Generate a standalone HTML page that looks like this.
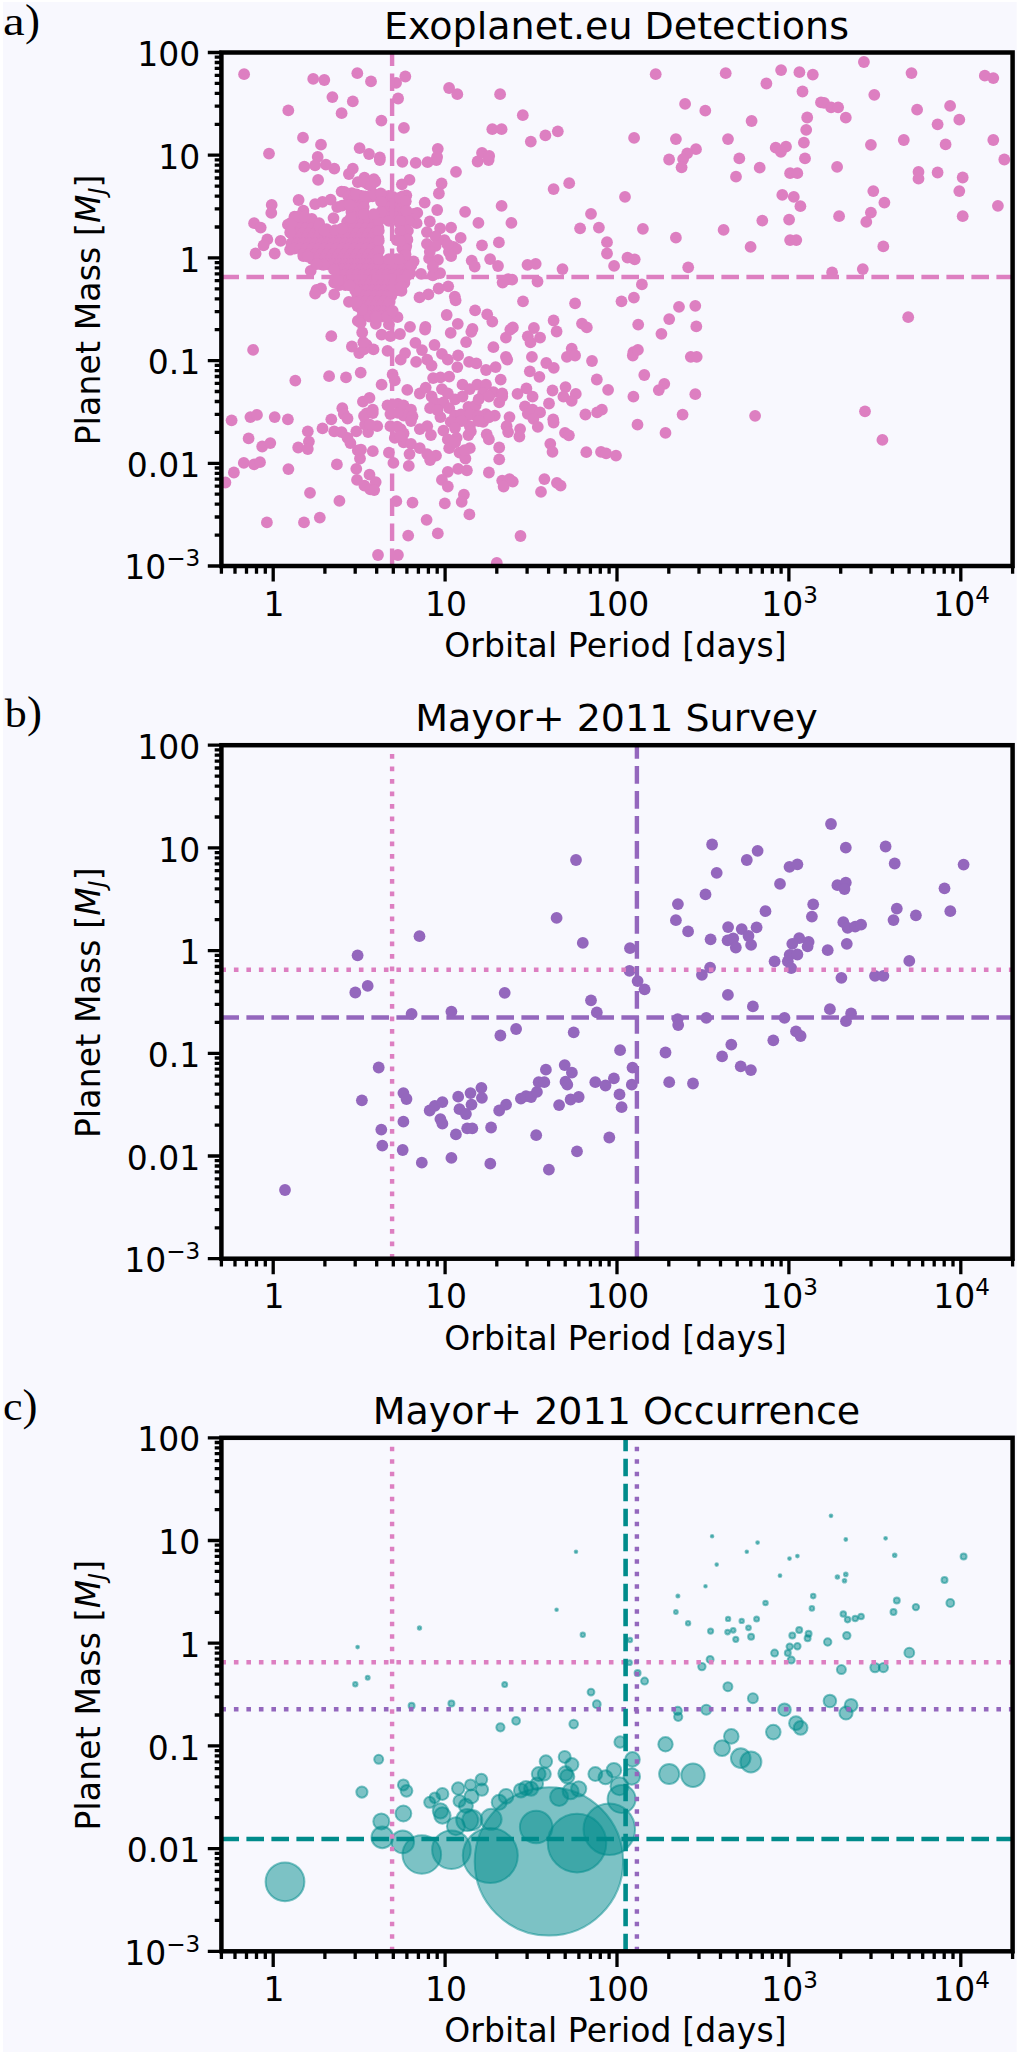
<!DOCTYPE html><html><head><meta charset="utf-8"><title>Exoplanet mass-period plots</title>
<style>html,body{margin:0;padding:0;background:#fff;overflow:hidden}svg{display:block}text{font-family:"DejaVu Sans","Liberation Sans",sans-serif}text.sr{font-family:"Liberation Serif","DejaVu Serif",serif}.tk{font-size:33px;letter-spacing:0px}.lb{font-size:33px;letter-spacing:0.15px}.sup{font-size:23.1px}</style></head><body>
<svg width="1020" height="2055" viewBox="0 0 1020 2055">
<rect x="3" y="2" width="1013.7" height="2050" fill="#f8f8fe"/>
<clipPath id="c0"><rect x="221.4" y="52.5" width="791.2" height="513.5"/></clipPath>
<g clip-path="url(#c0)">
<g fill="#dd7fc1">
<circle cx="244.1" cy="74.2" r="5.9"/>
<circle cx="313.2" cy="78.9" r="5.9"/>
<circle cx="324.3" cy="80" r="5.9"/>
<circle cx="357.3" cy="73.2" r="5.9"/>
<circle cx="371" cy="81.4" r="5.9"/>
<circle cx="405.3" cy="76.5" r="5.9"/>
<circle cx="396.1" cy="82.8" r="5.9"/>
<circle cx="398.1" cy="98.5" r="5.9"/>
<circle cx="332.4" cy="97.1" r="5.9"/>
<circle cx="352.8" cy="101.4" r="5.9"/>
<circle cx="288.3" cy="110.4" r="5.9"/>
<circle cx="341.6" cy="113.2" r="5.9"/>
<circle cx="381.4" cy="120.6" r="5.9"/>
<circle cx="403.9" cy="127.9" r="5.9"/>
<circle cx="303" cy="137.7" r="5.9"/>
<circle cx="321" cy="144.7" r="5.9"/>
<circle cx="269" cy="153.6" r="5.9"/>
<circle cx="359.6" cy="148.1" r="5.9"/>
<circle cx="369" cy="154" r="5.9"/>
<circle cx="379.8" cy="157.3" r="5.9"/>
<circle cx="402.4" cy="161.8" r="5.9"/>
<circle cx="415.7" cy="162.8" r="5.9"/>
<circle cx="317.7" cy="156.9" r="5.9"/>
<circle cx="304.3" cy="166.7" r="5.9"/>
<circle cx="315.1" cy="165.3" r="5.9"/>
<circle cx="325.9" cy="164.7" r="5.9"/>
<circle cx="334.3" cy="168.7" r="5.9"/>
<circle cx="352.8" cy="168.7" r="5.9"/>
<circle cx="318.1" cy="179.9" r="5.9"/>
<circle cx="348.9" cy="174" r="5.9"/>
<circle cx="357.8" cy="182.1" r="5.9"/>
<circle cx="364.4" cy="177.6" r="5.9"/>
<circle cx="368.1" cy="184.3" r="5.9"/>
<circle cx="298.6" cy="200" r="5.9"/>
<circle cx="341.6" cy="191.6" r="5.9"/>
<circle cx="351.9" cy="193.1" r="5.9"/>
<circle cx="361.4" cy="196" r="5.9"/>
<circle cx="368.1" cy="196.8" r="5.9"/>
<circle cx="271.7" cy="204.9" r="5.9"/>
<circle cx="271.3" cy="212.9" r="5.9"/>
<circle cx="315.1" cy="204.1" r="5.9"/>
<circle cx="322.5" cy="201.9" r="5.9"/>
<circle cx="330.6" cy="199.7" r="5.9"/>
<circle cx="337.2" cy="207.1" r="5.9"/>
<circle cx="347.5" cy="204.1" r="5.9"/>
<circle cx="303.4" cy="210.7" r="5.9"/>
<circle cx="294.5" cy="216.6" r="5.9"/>
<circle cx="333.5" cy="218.1" r="5.9"/>
<circle cx="254.1" cy="223.2" r="5.9"/>
<circle cx="260.7" cy="227.6" r="5.9"/>
<circle cx="287.9" cy="224.7" r="5.9"/>
<circle cx="267.3" cy="239.4" r="5.9"/>
<circle cx="263.6" cy="245.3" r="5.9"/>
<circle cx="280.6" cy="240.9" r="5.9"/>
<circle cx="379.8" cy="160" r="5.9"/>
<circle cx="427.6" cy="162.2" r="5.9"/>
<circle cx="436.4" cy="160" r="5.9"/>
<circle cx="477.6" cy="161.5" r="5.9"/>
<circle cx="488.6" cy="160" r="5.9"/>
<circle cx="456" cy="171.8" r="5.9"/>
<circle cx="373.9" cy="179.1" r="5.9"/>
<circle cx="409.5" cy="179.9" r="5.9"/>
<circle cx="401.9" cy="184.3" r="5.9"/>
<circle cx="441.6" cy="183.5" r="5.9"/>
<circle cx="438.9" cy="193.5" r="5.9"/>
<circle cx="406.3" cy="195.3" r="5.9"/>
<circle cx="379.8" cy="196" r="5.9"/>
<circle cx="388.6" cy="196" r="5.9"/>
<circle cx="424.7" cy="202.6" r="5.9"/>
<circle cx="437.2" cy="210" r="5.9"/>
<circle cx="465.1" cy="211.8" r="5.9"/>
<circle cx="501.6" cy="205.9" r="5.9"/>
<circle cx="417.3" cy="212.9" r="5.9"/>
<circle cx="429.8" cy="221.5" r="5.9"/>
<circle cx="478.4" cy="222.9" r="5.9"/>
<circle cx="511.4" cy="222.9" r="5.9"/>
<circle cx="426.9" cy="232.1" r="5.9"/>
<circle cx="440.1" cy="228.4" r="5.9"/>
<circle cx="451.1" cy="227.6" r="5.9"/>
<circle cx="460.7" cy="237.9" r="5.9"/>
<circle cx="435.7" cy="236.5" r="5.9"/>
<circle cx="444.5" cy="240.1" r="5.9"/>
<circle cx="426.9" cy="243.8" r="5.9"/>
<circle cx="453.4" cy="246.8" r="5.9"/>
<circle cx="482" cy="245.3" r="5.9"/>
<circle cx="498.9" cy="242.4" r="5.9"/>
<circle cx="404.8" cy="221.8" r="5.9"/>
<circle cx="416.6" cy="223.2" r="5.9"/>
<circle cx="407" cy="239.4" r="5.9"/>
<circle cx="396.7" cy="240.1" r="5.9"/>
<circle cx="449.1" cy="88" r="5.9"/>
<circle cx="457.3" cy="94.2" r="5.9"/>
<circle cx="500.1" cy="94.2" r="5.9"/>
<circle cx="522.8" cy="115.2" r="5.9"/>
<circle cx="492.3" cy="129.2" r="5.9"/>
<circle cx="501.6" cy="129.2" r="5.9"/>
<circle cx="530.8" cy="141.6" r="5.9"/>
<circle cx="545.4" cy="135.4" r="5.9"/>
<circle cx="557.8" cy="131.3" r="5.9"/>
<circle cx="437.8" cy="148.8" r="5.9"/>
<circle cx="437.1" cy="157" r="5.9"/>
<circle cx="482" cy="152.9" r="5.9"/>
<circle cx="489.2" cy="156" r="5.9"/>
<circle cx="655.7" cy="74.2" r="5.9"/>
<circle cx="725.7" cy="73.2" r="5.9"/>
<circle cx="781.1" cy="70.1" r="5.9"/>
<circle cx="799.4" cy="72.2" r="5.9"/>
<circle cx="812.8" cy="74.6" r="5.9"/>
<circle cx="766.4" cy="83.5" r="5.9"/>
<circle cx="802.5" cy="91.5" r="5.9"/>
<circle cx="821" cy="102.4" r="5.9"/>
<circle cx="685.1" cy="103.9" r="5.9"/>
<circle cx="705.3" cy="110.7" r="5.9"/>
<circle cx="751.6" cy="121" r="5.9"/>
<circle cx="807.2" cy="117.5" r="5.9"/>
<circle cx="806.2" cy="129.8" r="5.9"/>
<circle cx="803.9" cy="142.6" r="5.9"/>
<circle cx="805" cy="158.4" r="5.9"/>
<circle cx="634.1" cy="137.9" r="5.9"/>
<circle cx="675.9" cy="139.1" r="5.9"/>
<circle cx="728" cy="139.1" r="5.9"/>
<circle cx="696" cy="149.2" r="5.9"/>
<circle cx="687.2" cy="153.3" r="5.9"/>
<circle cx="683.1" cy="159.1" r="5.9"/>
<circle cx="669.1" cy="159.5" r="5.9"/>
<circle cx="681.6" cy="167.3" r="5.9"/>
<circle cx="739.3" cy="158.4" r="5.9"/>
<circle cx="775.7" cy="147.7" r="5.9"/>
<circle cx="786" cy="146.7" r="5.9"/>
<circle cx="780.9" cy="151.9" r="5.9"/>
<circle cx="759.7" cy="167.7" r="5.9"/>
<circle cx="863.9" cy="62" r="5.9"/>
<circle cx="911.5" cy="73.1" r="5.9"/>
<circle cx="984.8" cy="75.7" r="5.9"/>
<circle cx="993.3" cy="78.1" r="5.9"/>
<circle cx="874.3" cy="94.8" r="5.9"/>
<circle cx="824.1" cy="102.8" r="5.9"/>
<circle cx="831.1" cy="107.3" r="5.9"/>
<circle cx="838.1" cy="107.3" r="5.9"/>
<circle cx="845.8" cy="117.7" r="5.9"/>
<circle cx="917.1" cy="109.7" r="5.9"/>
<circle cx="950.1" cy="105.9" r="5.9"/>
<circle cx="937.6" cy="124.3" r="5.9"/>
<circle cx="959.3" cy="119.7" r="5.9"/>
<circle cx="870.9" cy="144.8" r="5.9"/>
<circle cx="903.8" cy="140" r="5.9"/>
<circle cx="945.6" cy="144.4" r="5.9"/>
<circle cx="993.3" cy="140" r="5.9"/>
<circle cx="1004.3" cy="159.5" r="5.9"/>
<circle cx="837.1" cy="166.9" r="5.9"/>
<circle cx="736" cy="176.7" r="5.9"/>
<circle cx="790.1" cy="173.2" r="5.9"/>
<circle cx="797.3" cy="173.2" r="5.9"/>
<circle cx="625" cy="196.9" r="5.9"/>
<circle cx="782.3" cy="194.9" r="5.9"/>
<circle cx="793.8" cy="196.9" r="5.9"/>
<circle cx="800.4" cy="206.2" r="5.9"/>
<circle cx="762.3" cy="220.6" r="5.9"/>
<circle cx="789.1" cy="219.6" r="5.9"/>
<circle cx="642.9" cy="228.8" r="5.9"/>
<circle cx="723.6" cy="229.9" r="5.9"/>
<circle cx="675.9" cy="237.7" r="5.9"/>
<circle cx="750.6" cy="246.9" r="5.9"/>
<circle cx="790.1" cy="240.1" r="5.9"/>
<circle cx="796.3" cy="240.1" r="5.9"/>
<circle cx="607" cy="242.2" r="5.9"/>
<circle cx="607" cy="253.5" r="5.9"/>
<circle cx="614.1" cy="265.9" r="5.9"/>
<circle cx="627.5" cy="257.6" r="5.9"/>
<circle cx="634.7" cy="259.3" r="5.9"/>
<circle cx="688.2" cy="267.3" r="5.9"/>
<circle cx="641.9" cy="284.4" r="5.9"/>
<circle cx="918.5" cy="172" r="5.9"/>
<circle cx="918.5" cy="178.7" r="5.9"/>
<circle cx="937.6" cy="172.5" r="5.9"/>
<circle cx="962.7" cy="177.5" r="5.9"/>
<circle cx="959.3" cy="191.1" r="5.9"/>
<circle cx="873.3" cy="191.1" r="5.9"/>
<circle cx="884.4" cy="202.6" r="5.9"/>
<circle cx="870.9" cy="212.6" r="5.9"/>
<circle cx="866.3" cy="221.9" r="5.9"/>
<circle cx="839.1" cy="216.2" r="5.9"/>
<circle cx="997.9" cy="205.8" r="5.9"/>
<circle cx="962.7" cy="216.2" r="5.9"/>
<circle cx="883.3" cy="246.4" r="5.9"/>
<circle cx="862.8" cy="269.1" r="5.9"/>
<circle cx="832.1" cy="272.5" r="5.9"/>
<circle cx="553.6" cy="189.1" r="5.9"/>
<circle cx="569.2" cy="183.2" r="5.9"/>
<circle cx="591" cy="213.8" r="5.9"/>
<circle cx="580.1" cy="228.3" r="5.9"/>
<circle cx="598.9" cy="227.6" r="5.9"/>
<circle cx="498" cy="266" r="5.9"/>
<circle cx="527.5" cy="264.8" r="5.9"/>
<circle cx="535.7" cy="263.8" r="5.9"/>
<circle cx="562.5" cy="269.1" r="5.9"/>
<circle cx="508.1" cy="279.1" r="5.9"/>
<circle cx="512.2" cy="279.7" r="5.9"/>
<circle cx="537.5" cy="281.5" r="5.9"/>
<circle cx="255.6" cy="253.5" r="5.9"/>
<circle cx="274.7" cy="253.5" r="5.9"/>
<circle cx="290.1" cy="249.6" r="5.9"/>
<circle cx="303.4" cy="256.2" r="5.9"/>
<circle cx="310.7" cy="270.9" r="5.9"/>
<circle cx="316.6" cy="290" r="5.9"/>
<circle cx="321" cy="288.5" r="5.9"/>
<circle cx="315.1" cy="293.7" r="5.9"/>
<circle cx="334.2" cy="294.4" r="5.9"/>
<circle cx="334.2" cy="282.6" r="5.9"/>
<circle cx="348.9" cy="301.8" r="5.9"/>
<circle cx="357.8" cy="320.9" r="5.9"/>
<circle cx="362.2" cy="316.5" r="5.9"/>
<circle cx="406.3" cy="245.9" r="5.9"/>
<circle cx="413.6" cy="261.3" r="5.9"/>
<circle cx="490.1" cy="259.1" r="5.9"/>
<circle cx="471.7" cy="260.6" r="5.9"/>
<circle cx="474.7" cy="266.5" r="5.9"/>
<circle cx="502.6" cy="282.6" r="5.9"/>
<circle cx="448.2" cy="286.3" r="5.9"/>
<circle cx="438.6" cy="288.5" r="5.9"/>
<circle cx="428.4" cy="294.4" r="5.9"/>
<circle cx="419.5" cy="297.4" r="5.9"/>
<circle cx="454.8" cy="296.6" r="5.9"/>
<circle cx="455.6" cy="300.3" r="5.9"/>
<circle cx="446.7" cy="315" r="5.9"/>
<circle cx="475.1" cy="310.3" r="5.9"/>
<circle cx="487.2" cy="314.3" r="5.9"/>
<circle cx="492.3" cy="321.6" r="5.9"/>
<circle cx="512.9" cy="327.5" r="5.9"/>
<circle cx="457.8" cy="323.8" r="5.9"/>
<circle cx="472.5" cy="329" r="5.9"/>
<circle cx="425.4" cy="326.8" r="5.9"/>
<circle cx="410" cy="326.8" r="5.9"/>
<circle cx="397.5" cy="317.2" r="5.9"/>
<circle cx="421" cy="273.8" r="5.9"/>
<circle cx="432.8" cy="275.3" r="5.9"/>
<circle cx="440.1" cy="273.1" r="5.9"/>
<circle cx="429.1" cy="258.4" r="5.9"/>
<circle cx="437.9" cy="259.9" r="5.9"/>
<circle cx="435.7" cy="245.9" r="5.9"/>
<circle cx="448.9" cy="251.8" r="5.9"/>
<circle cx="456.3" cy="248.8" r="5.9"/>
<circle cx="447.5" cy="244.4" r="5.9"/>
<circle cx="451.1" cy="256.2" r="5.9"/>
<circle cx="429.8" cy="251.8" r="5.9"/>
<circle cx="432.8" cy="266.5" r="5.9"/>
<circle cx="253.1" cy="349.9" r="5.9"/>
<circle cx="331.3" cy="336.2" r="5.9"/>
<circle cx="351.9" cy="346.5" r="5.9"/>
<circle cx="359.2" cy="353.1" r="5.9"/>
<circle cx="362.2" cy="332.5" r="5.9"/>
<circle cx="360.7" cy="322.9" r="5.9"/>
<circle cx="366.6" cy="345" r="5.9"/>
<circle cx="295.3" cy="380.6" r="5.9"/>
<circle cx="329.1" cy="376.2" r="5.9"/>
<circle cx="346" cy="377.4" r="5.9"/>
<circle cx="360.7" cy="372.6" r="5.9"/>
<circle cx="362.9" cy="401.6" r="5.9"/>
<circle cx="369.5" cy="397.9" r="5.9"/>
<circle cx="342.3" cy="408.2" r="5.9"/>
<circle cx="343.8" cy="414.1" r="5.9"/>
<circle cx="366.6" cy="413.4" r="5.9"/>
<circle cx="231.6" cy="420.3" r="5.9"/>
<circle cx="250.4" cy="417.1" r="5.9"/>
<circle cx="257" cy="414.9" r="5.9"/>
<circle cx="274.7" cy="417.1" r="5.9"/>
<circle cx="287.9" cy="419.3" r="5.9"/>
<circle cx="331.3" cy="419.3" r="5.9"/>
<circle cx="347.5" cy="418.5" r="5.9"/>
<circle cx="381.6" cy="334.7" r="5.9"/>
<circle cx="390.4" cy="336.2" r="5.9"/>
<circle cx="388.9" cy="324.4" r="5.9"/>
<circle cx="400" cy="334" r="5.9"/>
<circle cx="425" cy="329.6" r="5.9"/>
<circle cx="450.7" cy="332.9" r="5.9"/>
<circle cx="471.3" cy="331.8" r="5.9"/>
<circle cx="466.1" cy="342.1" r="5.9"/>
<circle cx="505.9" cy="337.6" r="5.9"/>
<circle cx="510.3" cy="329.6" r="5.9"/>
<circle cx="493.4" cy="347.2" r="5.9"/>
<circle cx="505.9" cy="356.8" r="5.9"/>
<circle cx="373.5" cy="349.4" r="5.9"/>
<circle cx="363.9" cy="349.4" r="5.9"/>
<circle cx="387.5" cy="350.9" r="5.9"/>
<circle cx="405.1" cy="353.1" r="5.9"/>
<circle cx="400.7" cy="359.7" r="5.9"/>
<circle cx="415.4" cy="342.8" r="5.9"/>
<circle cx="422" cy="350.1" r="5.9"/>
<circle cx="434.5" cy="345" r="5.9"/>
<circle cx="416.1" cy="361.9" r="5.9"/>
<circle cx="427.2" cy="359.7" r="5.9"/>
<circle cx="431.6" cy="365.6" r="5.9"/>
<circle cx="441.9" cy="353.8" r="5.9"/>
<circle cx="447.8" cy="359.7" r="5.9"/>
<circle cx="458.1" cy="355.3" r="5.9"/>
<circle cx="457.3" cy="367.1" r="5.9"/>
<circle cx="469.1" cy="361.9" r="5.9"/>
<circle cx="476.4" cy="363.4" r="5.9"/>
<circle cx="486" cy="370" r="5.9"/>
<circle cx="495.6" cy="367.1" r="5.9"/>
<circle cx="500.7" cy="379.6" r="5.9"/>
<circle cx="392.6" cy="374.4" r="5.9"/>
<circle cx="394.8" cy="380.3" r="5.9"/>
<circle cx="381.6" cy="384.7" r="5.9"/>
<circle cx="407.3" cy="389.9" r="5.9"/>
<circle cx="433.1" cy="378.1" r="5.9"/>
<circle cx="440.4" cy="377.4" r="5.9"/>
<circle cx="449.2" cy="376.6" r="5.9"/>
<circle cx="419.8" cy="393.5" r="5.9"/>
<circle cx="425.7" cy="387.6" r="5.9"/>
<circle cx="431.6" cy="396.5" r="5.9"/>
<circle cx="441.9" cy="389.1" r="5.9"/>
<circle cx="447.8" cy="393.5" r="5.9"/>
<circle cx="462.5" cy="384.7" r="5.9"/>
<circle cx="469.8" cy="389.1" r="5.9"/>
<circle cx="477.2" cy="384.7" r="5.9"/>
<circle cx="486" cy="384.7" r="5.9"/>
<circle cx="483.1" cy="393.5" r="5.9"/>
<circle cx="493.4" cy="392.1" r="5.9"/>
<circle cx="502.2" cy="393.5" r="5.9"/>
<circle cx="372.8" cy="409.7" r="5.9"/>
<circle cx="387.5" cy="405.3" r="5.9"/>
<circle cx="397.8" cy="403.8" r="5.9"/>
<circle cx="403.6" cy="405.3" r="5.9"/>
<circle cx="411" cy="409.7" r="5.9"/>
<circle cx="390.4" cy="414.1" r="5.9"/>
<circle cx="403.6" cy="415.6" r="5.9"/>
<circle cx="412.5" cy="416.3" r="5.9"/>
<circle cx="434.5" cy="402.4" r="5.9"/>
<circle cx="430.1" cy="408.2" r="5.9"/>
<circle cx="443.4" cy="402.4" r="5.9"/>
<circle cx="455.1" cy="399.4" r="5.9"/>
<circle cx="449.2" cy="408.2" r="5.9"/>
<circle cx="462.5" cy="396.5" r="5.9"/>
<circle cx="468.4" cy="406.8" r="5.9"/>
<circle cx="475.7" cy="405.3" r="5.9"/>
<circle cx="478.6" cy="399.4" r="5.9"/>
<circle cx="488.9" cy="396.5" r="5.9"/>
<circle cx="499.2" cy="402.4" r="5.9"/>
<circle cx="502.2" cy="396.5" r="5.9"/>
<circle cx="486" cy="414.1" r="5.9"/>
<circle cx="494.8" cy="415.6" r="5.9"/>
<circle cx="440.4" cy="417.1" r="5.9"/>
<circle cx="455.1" cy="415.6" r="5.9"/>
<circle cx="466.9" cy="415.6" r="5.9"/>
<circle cx="475.7" cy="415.6" r="5.9"/>
<circle cx="509.5" cy="417.1" r="5.9"/>
<circle cx="523" cy="301.3" r="5.9"/>
<circle cx="575.1" cy="303.3" r="5.9"/>
<circle cx="621.5" cy="301.3" r="5.9"/>
<circle cx="633.9" cy="297.6" r="5.9"/>
<circle cx="638.2" cy="324.6" r="5.9"/>
<circle cx="553.6" cy="320.5" r="5.9"/>
<circle cx="556.6" cy="331.5" r="5.9"/>
<circle cx="582" cy="323.6" r="5.9"/>
<circle cx="586.8" cy="327.4" r="5.9"/>
<circle cx="533.9" cy="328" r="5.9"/>
<circle cx="527.8" cy="336.3" r="5.9"/>
<circle cx="540.1" cy="337.6" r="5.9"/>
<circle cx="530.5" cy="342.4" r="5.9"/>
<circle cx="507.2" cy="359.6" r="5.9"/>
<circle cx="531.9" cy="356.9" r="5.9"/>
<circle cx="571.7" cy="348.6" r="5.9"/>
<circle cx="566.9" cy="356.9" r="5.9"/>
<circle cx="575.1" cy="355.5" r="5.9"/>
<circle cx="592" cy="361" r="5.9"/>
<circle cx="633.4" cy="352.1" r="5.9"/>
<circle cx="632.8" cy="355.5" r="5.9"/>
<circle cx="546.3" cy="363" r="5.9"/>
<circle cx="553.8" cy="367.8" r="5.9"/>
<circle cx="529.8" cy="371.3" r="5.9"/>
<circle cx="539.4" cy="376.8" r="5.9"/>
<circle cx="596.8" cy="379.5" r="5.9"/>
<circle cx="608.1" cy="389.8" r="5.9"/>
<circle cx="633.4" cy="396.7" r="5.9"/>
<circle cx="526.4" cy="388.4" r="5.9"/>
<circle cx="517.5" cy="393.9" r="5.9"/>
<circle cx="532.6" cy="396.7" r="5.9"/>
<circle cx="552.5" cy="390.5" r="5.9"/>
<circle cx="565.5" cy="387.1" r="5.9"/>
<circle cx="575.8" cy="393.9" r="5.9"/>
<circle cx="563.4" cy="396.7" r="5.9"/>
<circle cx="571.7" cy="400.8" r="5.9"/>
<circle cx="549" cy="403.5" r="5.9"/>
<circle cx="525" cy="406.3" r="5.9"/>
<circle cx="532.6" cy="409.7" r="5.9"/>
<circle cx="540.1" cy="412.4" r="5.9"/>
<circle cx="527.8" cy="413.8" r="5.9"/>
<circle cx="585.4" cy="414.5" r="5.9"/>
<circle cx="601.9" cy="409.7" r="5.9"/>
<circle cx="597.1" cy="412.4" r="5.9"/>
<circle cx="553.2" cy="419.3" r="5.9"/>
<circle cx="679" cy="306.8" r="5.9"/>
<circle cx="695.3" cy="305.8" r="5.9"/>
<circle cx="669.2" cy="319.1" r="5.9"/>
<circle cx="696.3" cy="326.4" r="5.9"/>
<circle cx="661.4" cy="333.8" r="5.9"/>
<circle cx="637.9" cy="349.9" r="5.9"/>
<circle cx="690.8" cy="356.8" r="5.9"/>
<circle cx="696.7" cy="356.8" r="5.9"/>
<circle cx="644.3" cy="375" r="5.9"/>
<circle cx="664.3" cy="383.8" r="5.9"/>
<circle cx="658.8" cy="390.1" r="5.9"/>
<circle cx="695.3" cy="394.2" r="5.9"/>
<circle cx="682.6" cy="414.6" r="5.9"/>
<circle cx="755.1" cy="415.8" r="5.9"/>
<circle cx="908.2" cy="317.2" r="5.9"/>
<circle cx="865" cy="411.3" r="5.9"/>
<circle cx="248.6" cy="438.4" r="5.9"/>
<circle cx="262.2" cy="446.5" r="5.9"/>
<circle cx="270.3" cy="443.1" r="5.9"/>
<circle cx="307.8" cy="431.3" r="5.9"/>
<circle cx="308.9" cy="441.6" r="5.9"/>
<circle cx="298.2" cy="447.5" r="5.9"/>
<circle cx="307.8" cy="449" r="5.9"/>
<circle cx="322.5" cy="428.4" r="5.9"/>
<circle cx="334.2" cy="431.3" r="5.9"/>
<circle cx="341.6" cy="432.1" r="5.9"/>
<circle cx="347.5" cy="437.9" r="5.9"/>
<circle cx="350.4" cy="443.1" r="5.9"/>
<circle cx="356.3" cy="431.3" r="5.9"/>
<circle cx="365.1" cy="424.7" r="5.9"/>
<circle cx="368.1" cy="432.1" r="5.9"/>
<circle cx="357.8" cy="450.4" r="5.9"/>
<circle cx="360" cy="458.5" r="5.9"/>
<circle cx="356.3" cy="468.8" r="5.9"/>
<circle cx="369.5" cy="474.7" r="5.9"/>
<circle cx="357" cy="479.9" r="5.9"/>
<circle cx="364.4" cy="485.7" r="5.9"/>
<circle cx="370.3" cy="489.4" r="5.9"/>
<circle cx="243.8" cy="462.9" r="5.9"/>
<circle cx="254.1" cy="464.4" r="5.9"/>
<circle cx="260" cy="462.2" r="5.9"/>
<circle cx="233.9" cy="472.5" r="5.9"/>
<circle cx="225.4" cy="482.5" r="5.9"/>
<circle cx="288.4" cy="469.1" r="5.9"/>
<circle cx="336.9" cy="464.4" r="5.9"/>
<circle cx="310" cy="492.8" r="5.9"/>
<circle cx="339.4" cy="500.9" r="5.9"/>
<circle cx="364" cy="416" r="5.9"/>
<circle cx="372.8" cy="413" r="5.9"/>
<circle cx="377.2" cy="426.2" r="5.9"/>
<circle cx="369.8" cy="424.7" r="5.9"/>
<circle cx="397.8" cy="412.9" r="5.9"/>
<circle cx="411" cy="421" r="5.9"/>
<circle cx="390.4" cy="426.2" r="5.9"/>
<circle cx="400.7" cy="429.1" r="5.9"/>
<circle cx="403.6" cy="433.5" r="5.9"/>
<circle cx="394.8" cy="437.9" r="5.9"/>
<circle cx="403.6" cy="442.4" r="5.9"/>
<circle cx="411" cy="443.8" r="5.9"/>
<circle cx="419.8" cy="448.2" r="5.9"/>
<circle cx="409.5" cy="454.1" r="5.9"/>
<circle cx="427.2" cy="454.1" r="5.9"/>
<circle cx="436" cy="455.6" r="5.9"/>
<circle cx="430.1" cy="460" r="5.9"/>
<circle cx="388.9" cy="452.6" r="5.9"/>
<circle cx="393.4" cy="462.9" r="5.9"/>
<circle cx="408.8" cy="465.9" r="5.9"/>
<circle cx="372.8" cy="451.2" r="5.9"/>
<circle cx="361" cy="449.7" r="5.9"/>
<circle cx="419.8" cy="429.1" r="5.9"/>
<circle cx="427.2" cy="426.2" r="5.9"/>
<circle cx="430.9" cy="435" r="5.9"/>
<circle cx="437.5" cy="410" r="5.9"/>
<circle cx="443.4" cy="430.6" r="5.9"/>
<circle cx="450.7" cy="421.8" r="5.9"/>
<circle cx="447.8" cy="439.4" r="5.9"/>
<circle cx="456.6" cy="437.9" r="5.9"/>
<circle cx="449.2" cy="448.2" r="5.9"/>
<circle cx="459.5" cy="452.6" r="5.9"/>
<circle cx="469.8" cy="448.2" r="5.9"/>
<circle cx="465.4" cy="458.5" r="5.9"/>
<circle cx="461" cy="414.4" r="5.9"/>
<circle cx="469.8" cy="414.4" r="5.9"/>
<circle cx="478.6" cy="415.9" r="5.9"/>
<circle cx="483.1" cy="421.8" r="5.9"/>
<circle cx="488.9" cy="417.4" r="5.9"/>
<circle cx="468.4" cy="435" r="5.9"/>
<circle cx="469.8" cy="426.2" r="5.9"/>
<circle cx="486.7" cy="434.3" r="5.9"/>
<circle cx="488.9" cy="439.4" r="5.9"/>
<circle cx="499.2" cy="447.5" r="5.9"/>
<circle cx="499.2" cy="459.3" r="5.9"/>
<circle cx="506.6" cy="426.2" r="5.9"/>
<circle cx="508.1" cy="432.1" r="5.9"/>
<circle cx="488.9" cy="472.5" r="5.9"/>
<circle cx="502.2" cy="480.6" r="5.9"/>
<circle cx="509.5" cy="479.1" r="5.9"/>
<circle cx="503.6" cy="486.5" r="5.9"/>
<circle cx="458.1" cy="468.8" r="5.9"/>
<circle cx="466.9" cy="470.3" r="5.9"/>
<circle cx="447.8" cy="471.8" r="5.9"/>
<circle cx="441.9" cy="479.9" r="5.9"/>
<circle cx="447.8" cy="486.5" r="5.9"/>
<circle cx="463.9" cy="494.6" r="5.9"/>
<circle cx="461.7" cy="501.9" r="5.9"/>
<circle cx="444.8" cy="503.4" r="5.9"/>
<circle cx="375.7" cy="482.1" r="5.9"/>
<circle cx="374.2" cy="490.1" r="5.9"/>
<circle cx="396.3" cy="501.2" r="5.9"/>
<circle cx="412.5" cy="502.6" r="5.9"/>
<circle cx="533.4" cy="418.8" r="5.9"/>
<circle cx="537.8" cy="426.9" r="5.9"/>
<circle cx="553.6" cy="422.5" r="5.9"/>
<circle cx="520.1" cy="429.1" r="5.9"/>
<circle cx="519.4" cy="436.5" r="5.9"/>
<circle cx="550.3" cy="443.8" r="5.9"/>
<circle cx="552.5" cy="451.9" r="5.9"/>
<circle cx="565" cy="432.8" r="5.9"/>
<circle cx="568.9" cy="435.3" r="5.9"/>
<circle cx="637.5" cy="424.7" r="5.9"/>
<circle cx="586.3" cy="452.2" r="5.9"/>
<circle cx="601" cy="451.9" r="5.9"/>
<circle cx="606.1" cy="453.4" r="5.9"/>
<circle cx="616" cy="455.6" r="5.9"/>
<circle cx="512.8" cy="481.6" r="5.9"/>
<circle cx="544.4" cy="479.1" r="5.9"/>
<circle cx="541" cy="491.9" r="5.9"/>
<circle cx="556.9" cy="482.8" r="5.9"/>
<circle cx="560.6" cy="485.7" r="5.9"/>
<circle cx="266.9" cy="522.4" r="5.9"/>
<circle cx="304" cy="522.4" r="5.9"/>
<circle cx="319.8" cy="517.6" r="5.9"/>
<circle cx="426.6" cy="519.8" r="5.9"/>
<circle cx="408.2" cy="535.6" r="5.9"/>
<circle cx="437.8" cy="533.4" r="5.9"/>
<circle cx="378" cy="555" r="5.9"/>
<circle cx="397.9" cy="555" r="5.9"/>
<circle cx="469.4" cy="514.4" r="5.9"/>
<circle cx="520.5" cy="536" r="5.9"/>
<circle cx="496.8" cy="563" r="5.9"/>
<circle cx="665.5" cy="432.9" r="5.9"/>
<circle cx="882.4" cy="439.9" r="5.9"/>
<circle cx="311.8" cy="218.8" r="5.9"/>
<circle cx="319.1" cy="223.2" r="5.9"/>
<circle cx="291.2" cy="232.8" r="5.9"/>
<circle cx="303" cy="226.2" r="5.9"/>
<circle cx="308.1" cy="232.8" r="5.9"/>
<circle cx="326.5" cy="229.1" r="5.9"/>
<circle cx="293.4" cy="243.1" r="5.9"/>
<circle cx="308.1" cy="242.4" r="5.9"/>
<circle cx="322.8" cy="239.4" r="5.9"/>
<circle cx="333.8" cy="232.8" r="5.9"/>
<circle cx="341.2" cy="229.1" r="5.9"/>
<circle cx="348.5" cy="232.8" r="5.9"/>
<circle cx="347.1" cy="221.8" r="5.9"/>
<circle cx="364.3" cy="182.2" r="5.9"/>
<circle cx="370.9" cy="185.9" r="5.9"/>
<circle cx="375.3" cy="181.5" r="5.9"/>
<circle cx="344.4" cy="191.8" r="5.9"/>
<circle cx="398.8" cy="200.6" r="5.9"/>
<circle cx="413.5" cy="213.8" r="5.9"/>
<circle cx="342.2" cy="205.7" r="5.9"/>
<circle cx="410.3" cy="273.2" r="5.9"/>
<circle cx="404.4" cy="282.8" r="5.9"/>
<circle cx="401.5" cy="290.9" r="5.9"/>
<circle cx="363.3" cy="342.2" r="5.9"/>
<circle cx="375.8" cy="323.8" r="5.9"/>
<circle cx="397.1" cy="426.7" r="5.9"/>
<circle cx="400.2" cy="436.1" r="5.9"/>
<circle cx="455.1" cy="442.4" r="5.9"/>
<circle cx="464.6" cy="450.2" r="5.9"/>
<circle cx="470.8" cy="431.4" r="5.9"/>
<circle cx="461.4" cy="421" r="5.9"/>
<circle cx="478.7" cy="421" r="5.9"/>
<circle cx="455" cy="428" r="5.9"/>
<circle cx="348.4" cy="196.4" r="5.9"/>
<circle cx="354.4" cy="196.4" r="5.9"/>
<circle cx="360.4" cy="196.4" r="5.9"/>
<circle cx="372.4" cy="196.4" r="5.9"/>
<circle cx="378.4" cy="196.4" r="5.9"/>
<circle cx="384.4" cy="196.4" r="5.9"/>
<circle cx="390.4" cy="196.4" r="5.9"/>
<circle cx="402.4" cy="196.4" r="5.9"/>
<circle cx="351.4" cy="201.7" r="5.9"/>
<circle cx="357.4" cy="201.7" r="5.9"/>
<circle cx="363.4" cy="201.7" r="5.9"/>
<circle cx="381.4" cy="201.7" r="5.9"/>
<circle cx="387.4" cy="201.7" r="5.9"/>
<circle cx="393.4" cy="201.7" r="5.9"/>
<circle cx="399.4" cy="201.7" r="5.9"/>
<circle cx="405.4" cy="201.7" r="5.9"/>
<circle cx="354.4" cy="206.9" r="5.9"/>
<circle cx="360.4" cy="206.9" r="5.9"/>
<circle cx="384.4" cy="206.9" r="5.9"/>
<circle cx="390.4" cy="206.9" r="5.9"/>
<circle cx="396.4" cy="206.9" r="5.9"/>
<circle cx="402.4" cy="206.9" r="5.9"/>
<circle cx="351.4" cy="212.1" r="5.9"/>
<circle cx="357.4" cy="212.1" r="5.9"/>
<circle cx="363.4" cy="212.1" r="5.9"/>
<circle cx="381.4" cy="212.1" r="5.9"/>
<circle cx="387.4" cy="212.1" r="5.9"/>
<circle cx="393.4" cy="212.1" r="5.9"/>
<circle cx="399.4" cy="212.1" r="5.9"/>
<circle cx="405.4" cy="212.1" r="5.9"/>
<circle cx="300.4" cy="217.3" r="5.9"/>
<circle cx="354.4" cy="217.3" r="5.9"/>
<circle cx="360.4" cy="217.3" r="5.9"/>
<circle cx="366.4" cy="217.3" r="5.9"/>
<circle cx="372.4" cy="217.3" r="5.9"/>
<circle cx="378.4" cy="217.3" r="5.9"/>
<circle cx="384.4" cy="217.3" r="5.9"/>
<circle cx="390.4" cy="217.3" r="5.9"/>
<circle cx="396.4" cy="217.3" r="5.9"/>
<circle cx="402.4" cy="217.3" r="5.9"/>
<circle cx="408.4" cy="217.3" r="5.9"/>
<circle cx="297.4" cy="222.5" r="5.9"/>
<circle cx="303.4" cy="222.5" r="5.9"/>
<circle cx="309.4" cy="222.5" r="5.9"/>
<circle cx="351.4" cy="222.5" r="5.9"/>
<circle cx="357.4" cy="222.5" r="5.9"/>
<circle cx="363.4" cy="222.5" r="5.9"/>
<circle cx="369.4" cy="222.5" r="5.9"/>
<circle cx="375.4" cy="222.5" r="5.9"/>
<circle cx="399.4" cy="222.5" r="5.9"/>
<circle cx="405.4" cy="222.5" r="5.9"/>
<circle cx="294.4" cy="227.8" r="5.9"/>
<circle cx="300.4" cy="227.8" r="5.9"/>
<circle cx="306.4" cy="227.8" r="5.9"/>
<circle cx="312.4" cy="227.8" r="5.9"/>
<circle cx="318.4" cy="227.8" r="5.9"/>
<circle cx="348.4" cy="227.8" r="5.9"/>
<circle cx="354.4" cy="227.8" r="5.9"/>
<circle cx="360.4" cy="227.8" r="5.9"/>
<circle cx="366.4" cy="227.8" r="5.9"/>
<circle cx="372.4" cy="227.8" r="5.9"/>
<circle cx="378.4" cy="227.8" r="5.9"/>
<circle cx="402.4" cy="227.8" r="5.9"/>
<circle cx="291.4" cy="233" r="5.9"/>
<circle cx="297.4" cy="233" r="5.9"/>
<circle cx="303.4" cy="233" r="5.9"/>
<circle cx="309.4" cy="233" r="5.9"/>
<circle cx="315.4" cy="233" r="5.9"/>
<circle cx="321.4" cy="233" r="5.9"/>
<circle cx="327.4" cy="233" r="5.9"/>
<circle cx="333.4" cy="233" r="5.9"/>
<circle cx="339.4" cy="233" r="5.9"/>
<circle cx="345.4" cy="233" r="5.9"/>
<circle cx="351.4" cy="233" r="5.9"/>
<circle cx="357.4" cy="233" r="5.9"/>
<circle cx="363.4" cy="233" r="5.9"/>
<circle cx="369.4" cy="233" r="5.9"/>
<circle cx="375.4" cy="233" r="5.9"/>
<circle cx="405.4" cy="233" r="5.9"/>
<circle cx="294.4" cy="238.2" r="5.9"/>
<circle cx="300.4" cy="238.2" r="5.9"/>
<circle cx="306.4" cy="238.2" r="5.9"/>
<circle cx="312.4" cy="238.2" r="5.9"/>
<circle cx="318.4" cy="238.2" r="5.9"/>
<circle cx="324.4" cy="238.2" r="5.9"/>
<circle cx="330.4" cy="238.2" r="5.9"/>
<circle cx="336.4" cy="238.2" r="5.9"/>
<circle cx="342.4" cy="238.2" r="5.9"/>
<circle cx="348.4" cy="238.2" r="5.9"/>
<circle cx="354.4" cy="238.2" r="5.9"/>
<circle cx="360.4" cy="238.2" r="5.9"/>
<circle cx="366.4" cy="238.2" r="5.9"/>
<circle cx="372.4" cy="238.2" r="5.9"/>
<circle cx="378.4" cy="238.2" r="5.9"/>
<circle cx="402.4" cy="238.2" r="5.9"/>
<circle cx="291.4" cy="243.4" r="5.9"/>
<circle cx="297.4" cy="243.4" r="5.9"/>
<circle cx="303.4" cy="243.4" r="5.9"/>
<circle cx="309.4" cy="243.4" r="5.9"/>
<circle cx="315.4" cy="243.4" r="5.9"/>
<circle cx="321.4" cy="243.4" r="5.9"/>
<circle cx="327.4" cy="243.4" r="5.9"/>
<circle cx="333.4" cy="243.4" r="5.9"/>
<circle cx="339.4" cy="243.4" r="5.9"/>
<circle cx="345.4" cy="243.4" r="5.9"/>
<circle cx="351.4" cy="243.4" r="5.9"/>
<circle cx="357.4" cy="243.4" r="5.9"/>
<circle cx="363.4" cy="243.4" r="5.9"/>
<circle cx="369.4" cy="243.4" r="5.9"/>
<circle cx="375.4" cy="243.4" r="5.9"/>
<circle cx="405.4" cy="243.4" r="5.9"/>
<circle cx="294.4" cy="248.6" r="5.9"/>
<circle cx="300.4" cy="248.6" r="5.9"/>
<circle cx="306.4" cy="248.6" r="5.9"/>
<circle cx="312.4" cy="248.6" r="5.9"/>
<circle cx="318.4" cy="248.6" r="5.9"/>
<circle cx="324.4" cy="248.6" r="5.9"/>
<circle cx="330.4" cy="248.6" r="5.9"/>
<circle cx="336.4" cy="248.6" r="5.9"/>
<circle cx="342.4" cy="248.6" r="5.9"/>
<circle cx="348.4" cy="248.6" r="5.9"/>
<circle cx="354.4" cy="248.6" r="5.9"/>
<circle cx="360.4" cy="248.6" r="5.9"/>
<circle cx="366.4" cy="248.6" r="5.9"/>
<circle cx="372.4" cy="248.6" r="5.9"/>
<circle cx="378.4" cy="248.6" r="5.9"/>
<circle cx="402.4" cy="248.6" r="5.9"/>
<circle cx="303.4" cy="253.9" r="5.9"/>
<circle cx="309.4" cy="253.9" r="5.9"/>
<circle cx="315.4" cy="253.9" r="5.9"/>
<circle cx="321.4" cy="253.9" r="5.9"/>
<circle cx="327.4" cy="253.9" r="5.9"/>
<circle cx="333.4" cy="253.9" r="5.9"/>
<circle cx="339.4" cy="253.9" r="5.9"/>
<circle cx="345.4" cy="253.9" r="5.9"/>
<circle cx="351.4" cy="253.9" r="5.9"/>
<circle cx="357.4" cy="253.9" r="5.9"/>
<circle cx="363.4" cy="253.9" r="5.9"/>
<circle cx="369.4" cy="253.9" r="5.9"/>
<circle cx="375.4" cy="253.9" r="5.9"/>
<circle cx="405.4" cy="253.9" r="5.9"/>
<circle cx="312.4" cy="259.1" r="5.9"/>
<circle cx="318.4" cy="259.1" r="5.9"/>
<circle cx="324.4" cy="259.1" r="5.9"/>
<circle cx="330.4" cy="259.1" r="5.9"/>
<circle cx="336.4" cy="259.1" r="5.9"/>
<circle cx="342.4" cy="259.1" r="5.9"/>
<circle cx="348.4" cy="259.1" r="5.9"/>
<circle cx="354.4" cy="259.1" r="5.9"/>
<circle cx="360.4" cy="259.1" r="5.9"/>
<circle cx="366.4" cy="259.1" r="5.9"/>
<circle cx="372.4" cy="259.1" r="5.9"/>
<circle cx="378.4" cy="259.1" r="5.9"/>
<circle cx="396.4" cy="259.1" r="5.9"/>
<circle cx="402.4" cy="259.1" r="5.9"/>
<circle cx="321.4" cy="264.3" r="5.9"/>
<circle cx="327.4" cy="264.3" r="5.9"/>
<circle cx="333.4" cy="264.3" r="5.9"/>
<circle cx="339.4" cy="264.3" r="5.9"/>
<circle cx="345.4" cy="264.3" r="5.9"/>
<circle cx="351.4" cy="264.3" r="5.9"/>
<circle cx="357.4" cy="264.3" r="5.9"/>
<circle cx="363.4" cy="264.3" r="5.9"/>
<circle cx="369.4" cy="264.3" r="5.9"/>
<circle cx="375.4" cy="264.3" r="5.9"/>
<circle cx="381.4" cy="264.3" r="5.9"/>
<circle cx="387.4" cy="264.3" r="5.9"/>
<circle cx="393.4" cy="264.3" r="5.9"/>
<circle cx="399.4" cy="264.3" r="5.9"/>
<circle cx="405.4" cy="264.3" r="5.9"/>
<circle cx="336.4" cy="269.5" r="5.9"/>
<circle cx="342.4" cy="269.5" r="5.9"/>
<circle cx="348.4" cy="269.5" r="5.9"/>
<circle cx="354.4" cy="269.5" r="5.9"/>
<circle cx="360.4" cy="269.5" r="5.9"/>
<circle cx="366.4" cy="269.5" r="5.9"/>
<circle cx="372.4" cy="269.5" r="5.9"/>
<circle cx="378.4" cy="269.5" r="5.9"/>
<circle cx="384.4" cy="269.5" r="5.9"/>
<circle cx="390.4" cy="269.5" r="5.9"/>
<circle cx="396.4" cy="269.5" r="5.9"/>
<circle cx="402.4" cy="269.5" r="5.9"/>
<circle cx="408.4" cy="269.5" r="5.9"/>
<circle cx="339.4" cy="274.7" r="5.9"/>
<circle cx="345.4" cy="274.7" r="5.9"/>
<circle cx="351.4" cy="274.7" r="5.9"/>
<circle cx="357.4" cy="274.7" r="5.9"/>
<circle cx="363.4" cy="274.7" r="5.9"/>
<circle cx="369.4" cy="274.7" r="5.9"/>
<circle cx="375.4" cy="274.7" r="5.9"/>
<circle cx="381.4" cy="274.7" r="5.9"/>
<circle cx="387.4" cy="274.7" r="5.9"/>
<circle cx="393.4" cy="274.7" r="5.9"/>
<circle cx="399.4" cy="274.7" r="5.9"/>
<circle cx="405.4" cy="274.7" r="5.9"/>
<circle cx="342.4" cy="280" r="5.9"/>
<circle cx="348.4" cy="280" r="5.9"/>
<circle cx="354.4" cy="280" r="5.9"/>
<circle cx="360.4" cy="280" r="5.9"/>
<circle cx="366.4" cy="280" r="5.9"/>
<circle cx="372.4" cy="280" r="5.9"/>
<circle cx="378.4" cy="280" r="5.9"/>
<circle cx="384.4" cy="280" r="5.9"/>
<circle cx="390.4" cy="280" r="5.9"/>
<circle cx="396.4" cy="280" r="5.9"/>
<circle cx="402.4" cy="280" r="5.9"/>
<circle cx="339.4" cy="285.2" r="5.9"/>
<circle cx="345.4" cy="285.2" r="5.9"/>
<circle cx="351.4" cy="285.2" r="5.9"/>
<circle cx="357.4" cy="285.2" r="5.9"/>
<circle cx="363.4" cy="285.2" r="5.9"/>
<circle cx="369.4" cy="285.2" r="5.9"/>
<circle cx="375.4" cy="285.2" r="5.9"/>
<circle cx="381.4" cy="285.2" r="5.9"/>
<circle cx="387.4" cy="285.2" r="5.9"/>
<circle cx="393.4" cy="285.2" r="5.9"/>
<circle cx="399.4" cy="285.2" r="5.9"/>
<circle cx="360.4" cy="290.4" r="5.9"/>
<circle cx="366.4" cy="290.4" r="5.9"/>
<circle cx="372.4" cy="290.4" r="5.9"/>
<circle cx="378.4" cy="290.4" r="5.9"/>
<circle cx="384.4" cy="290.4" r="5.9"/>
<circle cx="390.4" cy="290.4" r="5.9"/>
<circle cx="396.4" cy="290.4" r="5.9"/>
<circle cx="357.4" cy="295.6" r="5.9"/>
<circle cx="363.4" cy="295.6" r="5.9"/>
<circle cx="369.4" cy="295.6" r="5.9"/>
<circle cx="375.4" cy="295.6" r="5.9"/>
<circle cx="381.4" cy="295.6" r="5.9"/>
<circle cx="387.4" cy="295.6" r="5.9"/>
<circle cx="360.4" cy="300.8" r="5.9"/>
<circle cx="366.4" cy="300.8" r="5.9"/>
<circle cx="372.4" cy="300.8" r="5.9"/>
<circle cx="378.4" cy="300.8" r="5.9"/>
<circle cx="384.4" cy="300.8" r="5.9"/>
<circle cx="357.4" cy="306.1" r="5.9"/>
<circle cx="363.4" cy="306.1" r="5.9"/>
<circle cx="369.4" cy="306.1" r="5.9"/>
<circle cx="375.4" cy="306.1" r="5.9"/>
<circle cx="381.4" cy="306.1" r="5.9"/>
<circle cx="387.4" cy="306.1" r="5.9"/>
<circle cx="366.4" cy="311.3" r="5.9"/>
<circle cx="372.4" cy="311.3" r="5.9"/>
<circle cx="378.4" cy="311.3" r="5.9"/>
<circle cx="384.4" cy="311.3" r="5.9"/>
<circle cx="390.4" cy="311.3" r="5.9"/>
<circle cx="369.4" cy="316.5" r="5.9"/>
<circle cx="375.4" cy="316.5" r="5.9"/>
<circle cx="381.4" cy="316.5" r="5.9"/>
<circle cx="387.4" cy="316.5" r="5.9"/>
<circle cx="291.7" cy="222.5" r="5.9"/>
<circle cx="298.6" cy="216.4" r="5.9"/>
<circle cx="304.6" cy="216.7" r="5.9"/>
<circle cx="319.1" cy="226" r="5.9"/>
<circle cx="324.4" cy="230.5" r="5.9"/>
<circle cx="335.2" cy="230.1" r="5.9"/>
<circle cx="342.3" cy="228.7" r="5.9"/>
<circle cx="350.8" cy="217.8" r="5.9"/>
<circle cx="349.5" cy="204.8" r="5.9"/>
<circle cx="356.6" cy="194.5" r="5.9"/>
<circle cx="365.1" cy="196.5" r="5.9"/>
<circle cx="374.5" cy="194.4" r="5.9"/>
<circle cx="380.8" cy="193.5" r="5.9"/>
<circle cx="393" cy="197" r="5.9"/>
<circle cx="399.9" cy="197.8" r="5.9"/>
<circle cx="405.7" cy="201.2" r="5.9"/>
<circle cx="406.5" cy="210.8" r="5.9"/>
<circle cx="408.5" cy="221.2" r="5.9"/>
<circle cx="407.9" cy="230.7" r="5.9"/>
<circle cx="407.4" cy="239.7" r="5.9"/>
<circle cx="405.5" cy="248.9" r="5.9"/>
<circle cx="405.4" cy="255" r="5.9"/>
<circle cx="411.4" cy="265.3" r="5.9"/>
<circle cx="407.8" cy="274.9" r="5.9"/>
<circle cx="404.4" cy="280" r="5.9"/>
<circle cx="401.5" cy="286.6" r="5.9"/>
<circle cx="391.3" cy="295.8" r="5.9"/>
<circle cx="389.7" cy="301.8" r="5.9"/>
<circle cx="392.7" cy="310.8" r="5.9"/>
<circle cx="376.2" cy="317.5" r="5.9"/>
<circle cx="361.9" cy="309.5" r="5.9"/>
<circle cx="356.4" cy="302.7" r="5.9"/>
<circle cx="355.3" cy="290.4" r="5.9"/>
<circle cx="349.7" cy="285.4" r="5.9"/>
<circle cx="338.1" cy="280.9" r="5.9"/>
<circle cx="334" cy="269.7" r="5.9"/>
<circle cx="323.4" cy="264.9" r="5.9"/>
<circle cx="316.6" cy="264" r="5.9"/>
<circle cx="307.8" cy="256.5" r="5.9"/>
<circle cx="290.2" cy="232.5" r="5.9"/>
<circle cx="378.8" cy="220.8" r="5.9"/>
<circle cx="400.2" cy="220.8" r="5.9"/>
<circle cx="378.8" cy="230.8" r="5.9"/>
<circle cx="400.2" cy="230.8" r="5.9"/>
<circle cx="378.8" cy="240.8" r="5.9"/>
<circle cx="400.2" cy="240.8" r="5.9"/>
<circle cx="378.8" cy="250.8" r="5.9"/>
<circle cx="378.8" cy="259.2" r="5.9"/>
<circle cx="388.8" cy="220.8" r="5.9"/>
<circle cx="388.8" cy="259.2" r="5.9"/>
<circle cx="398.8" cy="259.2" r="5.9"/>
<circle cx="381.2" cy="201.8" r="5.9"/>
<circle cx="363.8" cy="206.8" r="5.9"/>
<circle cx="381.2" cy="211.8" r="5.9"/>
<circle cx="363.8" cy="214.2" r="5.9"/>
<circle cx="373.8" cy="214.2" r="5.9"/>
</g>
<line x1="392.1" y1="566" x2="392.1" y2="52.5" stroke="#dd7fc1" stroke-width="4.4" stroke-dasharray="17.6 7.4"/>
<line x1="221.4" y1="277" x2="1012.6" y2="277" stroke="#dd7fc1" stroke-width="4.4" stroke-dasharray="17.6 7.4"/>
</g>
<path d="M273.2 566v15.6M445.1 566v15.6M617 566v15.6M788.9 566v15.6M960.8 566v15.6M221.4 566v7.8M235 566v7.8M246.5 566v7.8M256.5 566v7.8M265.3 566v7.8M324.9 566v7.8M355.2 566v7.8M376.7 566v7.8M393.3 566v7.8M406.9 566v7.8M418.4 566v7.8M428.4 566v7.8M437.2 566v7.8M496.8 566v7.8M527.1 566v7.8M548.6 566v7.8M565.2 566v7.8M578.9 566v7.8M590.4 566v7.8M600.3 566v7.8M609.1 566v7.8M668.8 566v7.8M699 566v7.8M720.5 566v7.8M737.2 566v7.8M750.8 566v7.8M762.3 566v7.8M772.3 566v7.8M781.1 566v7.8M840.7 566v7.8M871 566v7.8M892.4 566v7.8M909.1 566v7.8M922.7 566v7.8M934.2 566v7.8M944.2 566v7.8M953 566v7.8M1012.6 566v7.8M221.4 566h-13.6M221.4 463.3h-13.6M221.4 360.6h-13.6M221.4 257.9h-13.6M221.4 155.2h-13.6M221.4 52.5h-13.6M221.4 535.1h-6.7M221.4 517h-6.7M221.4 504.2h-6.7M221.4 494.2h-6.7M221.4 486.1h-6.7M221.4 479.2h-6.7M221.4 473.3h-6.7M221.4 468h-6.7M221.4 432.4h-6.7M221.4 414.3h-6.7M221.4 401.5h-6.7M221.4 391.5h-6.7M221.4 383.4h-6.7M221.4 376.5h-6.7M221.4 370.6h-6.7M221.4 365.3h-6.7M221.4 329.7h-6.7M221.4 311.6h-6.7M221.4 298.8h-6.7M221.4 288.8h-6.7M221.4 280.7h-6.7M221.4 273.8h-6.7M221.4 267.9h-6.7M221.4 262.6h-6.7M221.4 227h-6.7M221.4 208.9h-6.7M221.4 196.1h-6.7M221.4 186.1h-6.7M221.4 178h-6.7M221.4 171.1h-6.7M221.4 165.2h-6.7M221.4 159.9h-6.7M221.4 124.3h-6.7M221.4 106.2h-6.7M221.4 93.4h-6.7M221.4 83.4h-6.7M221.4 75.3h-6.7M221.4 68.4h-6.7M221.4 62.5h-6.7M221.4 57.2h-6.7" stroke="#000" stroke-width="3.3" fill="none"/>
<rect x="221.4" y="52.5" width="791.2" height="513.5" fill="none" stroke="#000" stroke-width="4.5" stroke-linejoin="miter"/>
<text x="200.3" y="66.1" class="tk" text-anchor="end">100</text>
<text x="200.3" y="168.8" class="tk" text-anchor="end">10</text>
<text x="200.3" y="271.5" class="tk" text-anchor="end">1</text>
<text x="200.3" y="374.2" class="tk" text-anchor="end">0.1</text>
<text x="200.3" y="476.9" class="tk" text-anchor="end">0.01</text>
<text x="200.3" y="579.4" class="tk" text-anchor="end">10<tspan class="sup" dy="-13">−3</tspan></text>
<text x="274" y="615.5" class="tk" text-anchor="middle">1</text>
<text x="445.9" y="615.5" class="tk" text-anchor="middle">10</text>
<text x="617.8" y="615.5" class="tk" text-anchor="middle">100</text>
<text x="789.7" y="615.5" class="tk" text-anchor="middle">10<tspan class="sup" dy="-13">3</tspan></text>
<text x="961.6" y="615.5" class="tk" text-anchor="middle">10<tspan class="sup" dy="-13">4</tspan></text>
<text x="615.5" y="657.1" class="lb" text-anchor="middle">Orbital Period [days]</text>
<text transform="translate(100.3 309.9) rotate(-90)" class="lb" text-anchor="middle">Planet Mass [<tspan font-style="italic">M</tspan><tspan font-size="22.5" font-style="italic" dy="5">J</tspan><tspan dy="-5">]</tspan></text>
<text x="616.5" y="38.7" font-size="38" text-anchor="middle">Exoplanet.eu Detections</text>
<g><text class="sr" transform="translate(3 34.7) scale(1.22 1)" font-size="40">a</text><text class="sr" x="24.9" y="34.7" font-size="45">)</text></g>
<clipPath id="c1"><rect x="221.4" y="745.2" width="791.2" height="513.5"/></clipPath>
<g clip-path="url(#c1)">
<g fill="#9467bd">
<circle cx="419.5" cy="936.2" r="5.9"/>
<circle cx="357.6" cy="955.3" r="5.9"/>
<circle cx="367.7" cy="985.9" r="5.9"/>
<circle cx="355.3" cy="992.5" r="5.9"/>
<circle cx="411.6" cy="1013.9" r="5.9"/>
<circle cx="451.4" cy="1011.6" r="5.9"/>
<circle cx="378.7" cy="1067.5" r="5.9"/>
<circle cx="361.9" cy="1100.3" r="5.9"/>
<circle cx="403.4" cy="1093.1" r="5.9"/>
<circle cx="406.5" cy="1099" r="5.9"/>
<circle cx="403.4" cy="1121.7" r="5.9"/>
<circle cx="381.3" cy="1129.6" r="5.9"/>
<circle cx="382.3" cy="1145.6" r="5.9"/>
<circle cx="402.7" cy="1150" r="5.9"/>
<circle cx="421.8" cy="1162.7" r="5.9"/>
<circle cx="451.4" cy="1157.9" r="5.9"/>
<circle cx="429.7" cy="1110.5" r="5.9"/>
<circle cx="434.8" cy="1105.9" r="5.9"/>
<circle cx="442.4" cy="1102.1" r="5.9"/>
<circle cx="440.4" cy="1119.1" r="5.9"/>
<circle cx="442.4" cy="1123.7" r="5.9"/>
<circle cx="458.2" cy="1096.7" r="5.9"/>
<circle cx="459.5" cy="1109.2" r="5.9"/>
<circle cx="465.9" cy="1114" r="5.9"/>
<circle cx="471.5" cy="1104.6" r="5.9"/>
<circle cx="470.5" cy="1093.1" r="5.9"/>
<circle cx="481.4" cy="1087.8" r="5.9"/>
<circle cx="481.9" cy="1097.8" r="5.9"/>
<circle cx="455.9" cy="1134.4" r="5.9"/>
<circle cx="467.2" cy="1128.3" r="5.9"/>
<circle cx="472.3" cy="1128.3" r="5.9"/>
<circle cx="285" cy="1190" r="5.9"/>
<circle cx="491.1" cy="1127.5" r="5.9"/>
<circle cx="490.3" cy="1163.7" r="5.9"/>
<circle cx="499.2" cy="1110.5" r="5.9"/>
<circle cx="506.1" cy="1104.6" r="5.9"/>
<circle cx="520.9" cy="1098.7" r="5.9"/>
<circle cx="526" cy="1096.2" r="5.9"/>
<circle cx="531.1" cy="1097" r="5.9"/>
<circle cx="536.9" cy="1091.9" r="5.9"/>
<circle cx="538.7" cy="1082.2" r="5.9"/>
<circle cx="544.3" cy="1082.2" r="5.9"/>
<circle cx="545.9" cy="1069.7" r="5.9"/>
<circle cx="536.2" cy="1135.2" r="5.9"/>
<circle cx="548.9" cy="1169.6" r="5.9"/>
<circle cx="559.1" cy="1105.1" r="5.9"/>
<circle cx="564.7" cy="1065.1" r="5.9"/>
<circle cx="571.9" cy="1072.7" r="5.9"/>
<circle cx="565.5" cy="1081.7" r="5.9"/>
<circle cx="567.3" cy="1084.7" r="5.9"/>
<circle cx="570.6" cy="1099.5" r="5.9"/>
<circle cx="578.7" cy="1097" r="5.9"/>
<circle cx="577" cy="1151.3" r="5.9"/>
<circle cx="595.3" cy="1082.2" r="5.9"/>
<circle cx="605.5" cy="1085.5" r="5.9"/>
<circle cx="613.9" cy="1078.4" r="5.9"/>
<circle cx="619.5" cy="1094.4" r="5.9"/>
<circle cx="621.6" cy="1107.2" r="5.9"/>
<circle cx="609.3" cy="1137.5" r="5.9"/>
<circle cx="632.5" cy="1067.6" r="5.9"/>
<circle cx="631.8" cy="1084.7" r="5.9"/>
<circle cx="669.2" cy="1082.2" r="5.9"/>
<circle cx="693" cy="1083.5" r="5.9"/>
<circle cx="644.6" cy="989.3" r="5.9"/>
<circle cx="701.9" cy="974.8" r="5.9"/>
<circle cx="710.1" cy="967.6" r="5.9"/>
<circle cx="727.9" cy="994.9" r="5.9"/>
<circle cx="752.9" cy="1006.4" r="5.9"/>
<circle cx="677.7" cy="1019.1" r="5.9"/>
<circle cx="678.2" cy="1025" r="5.9"/>
<circle cx="706.3" cy="1017.9" r="5.9"/>
<circle cx="784.5" cy="1017.9" r="5.9"/>
<circle cx="829.9" cy="1009.2" r="5.9"/>
<circle cx="851.1" cy="1013.5" r="5.9"/>
<circle cx="846" cy="1021.2" r="5.9"/>
<circle cx="796" cy="1031.4" r="5.9"/>
<circle cx="800.6" cy="1036" r="5.9"/>
<circle cx="773.3" cy="1040.3" r="5.9"/>
<circle cx="665.5" cy="1052.5" r="5.9"/>
<circle cx="731.3" cy="1044.6" r="5.9"/>
<circle cx="722.1" cy="1056.4" r="5.9"/>
<circle cx="740.7" cy="1066.3" r="5.9"/>
<circle cx="750.9" cy="1070.1" r="5.9"/>
<circle cx="774.6" cy="961.3" r="5.9"/>
<circle cx="787.8" cy="961.3" r="5.9"/>
<circle cx="791.2" cy="968.2" r="5.9"/>
<circle cx="841.4" cy="977.8" r="5.9"/>
<circle cx="875" cy="975.8" r="5.9"/>
<circle cx="883.4" cy="975.8" r="5.9"/>
<circle cx="831" cy="824" r="5.9"/>
<circle cx="757.6" cy="850.8" r="5.9"/>
<circle cx="845.8" cy="847.7" r="5.9"/>
<circle cx="885.6" cy="846.5" r="5.9"/>
<circle cx="789.5" cy="866.8" r="5.9"/>
<circle cx="797.4" cy="864.3" r="5.9"/>
<circle cx="894.7" cy="863.5" r="5.9"/>
<circle cx="963.6" cy="864.6" r="5.9"/>
<circle cx="780" cy="883.9" r="5.9"/>
<circle cx="837.4" cy="885.2" r="5.9"/>
<circle cx="845.8" cy="882.6" r="5.9"/>
<circle cx="844.5" cy="889" r="5.9"/>
<circle cx="944.5" cy="888.3" r="5.9"/>
<circle cx="813.2" cy="904.3" r="5.9"/>
<circle cx="811.9" cy="916.6" r="5.9"/>
<circle cx="765.5" cy="911.2" r="5.9"/>
<circle cx="756.6" cy="927.3" r="5.9"/>
<circle cx="896.8" cy="908.6" r="5.9"/>
<circle cx="893.5" cy="920.1" r="5.9"/>
<circle cx="915.9" cy="915.3" r="5.9"/>
<circle cx="950.3" cy="911.2" r="5.9"/>
<circle cx="843.3" cy="922.2" r="5.9"/>
<circle cx="847.6" cy="927.8" r="5.9"/>
<circle cx="855.2" cy="926.7" r="5.9"/>
<circle cx="861.1" cy="924.7" r="5.9"/>
<circle cx="846.8" cy="943.8" r="5.9"/>
<circle cx="799.2" cy="938.2" r="5.9"/>
<circle cx="792.3" cy="943.8" r="5.9"/>
<circle cx="808.6" cy="942" r="5.9"/>
<circle cx="807.6" cy="946.4" r="5.9"/>
<circle cx="827.7" cy="950.2" r="5.9"/>
<circle cx="789.7" cy="954.8" r="5.9"/>
<circle cx="797.4" cy="954.5" r="5.9"/>
<circle cx="909.3" cy="960.9" r="5.9"/>
<circle cx="576" cy="860" r="5.9"/>
<circle cx="556.6" cy="917.9" r="5.9"/>
<circle cx="582.8" cy="942.9" r="5.9"/>
<circle cx="630" cy="948.2" r="5.9"/>
<circle cx="629.5" cy="970.9" r="5.9"/>
<circle cx="637.6" cy="981.1" r="5.9"/>
<circle cx="712.1" cy="844.5" r="5.9"/>
<circle cx="716.7" cy="872.8" r="5.9"/>
<circle cx="746.8" cy="860" r="5.9"/>
<circle cx="705.5" cy="894.4" r="5.9"/>
<circle cx="677.9" cy="904.1" r="5.9"/>
<circle cx="675.9" cy="920.2" r="5.9"/>
<circle cx="688.1" cy="931.4" r="5.9"/>
<circle cx="710.6" cy="939.3" r="5.9"/>
<circle cx="728.1" cy="927.1" r="5.9"/>
<circle cx="741.7" cy="929.1" r="5.9"/>
<circle cx="727.6" cy="940.3" r="5.9"/>
<circle cx="733.2" cy="938.5" r="5.9"/>
<circle cx="735.8" cy="947.5" r="5.9"/>
<circle cx="748.5" cy="936" r="5.9"/>
<circle cx="751.1" cy="944.9" r="5.9"/>
<circle cx="504.7" cy="992.8" r="5.9"/>
<circle cx="500.4" cy="1035.5" r="5.9"/>
<circle cx="516.1" cy="1029" r="5.9"/>
<circle cx="573.7" cy="1032.3" r="5.9"/>
<circle cx="591" cy="1000.3" r="5.9"/>
<circle cx="596.8" cy="1012.4" r="5.9"/>
<circle cx="620.1" cy="1050.2" r="5.9"/>
</g>
<line x1="392.1" y1="1258.7" x2="392.1" y2="745.2" stroke="#dd7fc1" stroke-width="4.4" stroke-dasharray="4.6 7.9"/>
<line x1="221.4" y1="969.7" x2="1012.6" y2="969.7" stroke="#dd7fc1" stroke-width="4.4" stroke-dasharray="4.6 7.9"/>
<line x1="636.9" y1="1258.7" x2="636.9" y2="745.2" stroke="#9467bd" stroke-width="4.4" stroke-dasharray="17.6 7.4"/>
<line x1="221.4" y1="1017.5" x2="1012.6" y2="1017.5" stroke="#9467bd" stroke-width="4.4" stroke-dasharray="17.6 7.4"/>
</g>
<path d="M273.2 1258.7v15.6M445.1 1258.7v15.6M617 1258.7v15.6M788.9 1258.7v15.6M960.8 1258.7v15.6M221.4 1258.7v7.8M235 1258.7v7.8M246.5 1258.7v7.8M256.5 1258.7v7.8M265.3 1258.7v7.8M324.9 1258.7v7.8M355.2 1258.7v7.8M376.7 1258.7v7.8M393.3 1258.7v7.8M406.9 1258.7v7.8M418.4 1258.7v7.8M428.4 1258.7v7.8M437.2 1258.7v7.8M496.8 1258.7v7.8M527.1 1258.7v7.8M548.6 1258.7v7.8M565.2 1258.7v7.8M578.9 1258.7v7.8M590.4 1258.7v7.8M600.3 1258.7v7.8M609.1 1258.7v7.8M668.8 1258.7v7.8M699 1258.7v7.8M720.5 1258.7v7.8M737.2 1258.7v7.8M750.8 1258.7v7.8M762.3 1258.7v7.8M772.3 1258.7v7.8M781.1 1258.7v7.8M840.7 1258.7v7.8M871 1258.7v7.8M892.4 1258.7v7.8M909.1 1258.7v7.8M922.7 1258.7v7.8M934.2 1258.7v7.8M944.2 1258.7v7.8M953 1258.7v7.8M1012.6 1258.7v7.8M221.4 1258.7h-13.6M221.4 1156h-13.6M221.4 1053.3h-13.6M221.4 950.6h-13.6M221.4 847.9h-13.6M221.4 745.2h-13.6M221.4 1227.8h-6.7M221.4 1209.7h-6.7M221.4 1196.9h-6.7M221.4 1186.9h-6.7M221.4 1178.8h-6.7M221.4 1171.9h-6.7M221.4 1166h-6.7M221.4 1160.7h-6.7M221.4 1125.1h-6.7M221.4 1107h-6.7M221.4 1094.2h-6.7M221.4 1084.2h-6.7M221.4 1076.1h-6.7M221.4 1069.2h-6.7M221.4 1063.3h-6.7M221.4 1058h-6.7M221.4 1022.4h-6.7M221.4 1004.3h-6.7M221.4 991.5h-6.7M221.4 981.5h-6.7M221.4 973.4h-6.7M221.4 966.5h-6.7M221.4 960.6h-6.7M221.4 955.3h-6.7M221.4 919.7h-6.7M221.4 901.6h-6.7M221.4 888.8h-6.7M221.4 878.8h-6.7M221.4 870.7h-6.7M221.4 863.8h-6.7M221.4 857.9h-6.7M221.4 852.6h-6.7M221.4 817h-6.7M221.4 798.9h-6.7M221.4 786.1h-6.7M221.4 776.1h-6.7M221.4 768h-6.7M221.4 761.1h-6.7M221.4 755.2h-6.7M221.4 749.9h-6.7" stroke="#000" stroke-width="3.3" fill="none"/>
<rect x="221.4" y="745.2" width="791.2" height="513.5" fill="none" stroke="#000" stroke-width="4.5" stroke-linejoin="miter"/>
<text x="200.3" y="758.8" class="tk" text-anchor="end">100</text>
<text x="200.3" y="861.5" class="tk" text-anchor="end">10</text>
<text x="200.3" y="964.2" class="tk" text-anchor="end">1</text>
<text x="200.3" y="1066.9" class="tk" text-anchor="end">0.1</text>
<text x="200.3" y="1169.6" class="tk" text-anchor="end">0.01</text>
<text x="200.3" y="1272.1" class="tk" text-anchor="end">10<tspan class="sup" dy="-13">−3</tspan></text>
<text x="274" y="1308.2" class="tk" text-anchor="middle">1</text>
<text x="445.9" y="1308.2" class="tk" text-anchor="middle">10</text>
<text x="617.8" y="1308.2" class="tk" text-anchor="middle">100</text>
<text x="789.7" y="1308.2" class="tk" text-anchor="middle">10<tspan class="sup" dy="-13">3</tspan></text>
<text x="961.6" y="1308.2" class="tk" text-anchor="middle">10<tspan class="sup" dy="-13">4</tspan></text>
<text x="615.5" y="1349.8" class="lb" text-anchor="middle">Orbital Period [days]</text>
<text transform="translate(100.3 1002.7) rotate(-90)" class="lb" text-anchor="middle">Planet Mass [<tspan font-style="italic">M</tspan><tspan font-size="22.5" font-style="italic" dy="5">J</tspan><tspan dy="-5">]</tspan></text>
<text x="616.5" y="731.4" font-size="38" text-anchor="middle">Mayor+ 2011 Survey</text>
<g><text class="sr" transform="translate(4.7 727.4) scale(1.1 1)" font-size="40">b</text><text class="sr" x="27.1" y="727.4" font-size="45">)</text></g>
<clipPath id="c2"><rect x="221.4" y="1437.8" width="791.2" height="513.5"/></clipPath>
<g clip-path="url(#c2)">
<g fill="#008b8b" fill-opacity="0.5" stroke="#008b8b" stroke-opacity="0.5" stroke-width="2.0">
<circle cx="419.5" cy="1628" r="1.7"/>
<circle cx="357.6" cy="1647.1" r="1.4"/>
<circle cx="367.7" cy="1677.7" r="2"/>
<circle cx="355.3" cy="1684.3" r="2.2"/>
<circle cx="411.6" cy="1705.7" r="3"/>
<circle cx="451.4" cy="1703.4" r="3"/>
<circle cx="378.7" cy="1759.3" r="4.5"/>
<circle cx="361.9" cy="1792.1" r="5.6"/>
<circle cx="403.4" cy="1784.9" r="5.5"/>
<circle cx="406.5" cy="1790.8" r="5.9"/>
<circle cx="403.4" cy="1813.5" r="7.9"/>
<circle cx="381.3" cy="1821.4" r="8"/>
<circle cx="382.3" cy="1837.4" r="10.8"/>
<circle cx="402.7" cy="1841.8" r="11.4"/>
<circle cx="421.8" cy="1854.5" r="19.3"/>
<circle cx="451.4" cy="1849.7" r="19.3"/>
<circle cx="429.7" cy="1802.3" r="5.5"/>
<circle cx="434.8" cy="1797.7" r="5.3"/>
<circle cx="442.4" cy="1793.9" r="6"/>
<circle cx="440.4" cy="1810.9" r="7.6"/>
<circle cx="442.4" cy="1815.5" r="8.2"/>
<circle cx="458.2" cy="1788.5" r="6.2"/>
<circle cx="459.5" cy="1801" r="6"/>
<circle cx="465.9" cy="1805.8" r="7"/>
<circle cx="471.5" cy="1796.4" r="7"/>
<circle cx="470.5" cy="1784.9" r="5.5"/>
<circle cx="481.4" cy="1779.6" r="5.8"/>
<circle cx="481.9" cy="1789.6" r="6.2"/>
<circle cx="455.9" cy="1826.2" r="9"/>
<circle cx="467.2" cy="1820.1" r="11"/>
<circle cx="472.3" cy="1820.1" r="10"/>
<circle cx="285" cy="1881.8" r="19.4"/>
<circle cx="491.1" cy="1819.3" r="10.5"/>
<circle cx="490.3" cy="1855.5" r="27.5"/>
<circle cx="499.2" cy="1802.3" r="7.5"/>
<circle cx="506.1" cy="1796.4" r="7.3"/>
<circle cx="520.9" cy="1790.5" r="7"/>
<circle cx="526" cy="1788" r="7"/>
<circle cx="531.1" cy="1788.8" r="7"/>
<circle cx="536.9" cy="1783.7" r="6.2"/>
<circle cx="538.7" cy="1774" r="6.9"/>
<circle cx="544.3" cy="1774" r="6.5"/>
<circle cx="545.9" cy="1761.5" r="6.2"/>
<circle cx="536.2" cy="1827" r="16.3"/>
<circle cx="548.9" cy="1861.4" r="74.2"/>
<circle cx="559.1" cy="1796.9" r="9"/>
<circle cx="564.7" cy="1756.9" r="6"/>
<circle cx="571.9" cy="1764.5" r="6.5"/>
<circle cx="565.5" cy="1773.5" r="7.2"/>
<circle cx="567.3" cy="1776.5" r="7"/>
<circle cx="570.6" cy="1791.3" r="8"/>
<circle cx="578.7" cy="1788.8" r="7.6"/>
<circle cx="577" cy="1843.1" r="29.3"/>
<circle cx="595.3" cy="1774" r="6.9"/>
<circle cx="605.5" cy="1777.3" r="7"/>
<circle cx="613.9" cy="1770.2" r="7.3"/>
<circle cx="619.5" cy="1786.2" r="9"/>
<circle cx="621.6" cy="1799" r="14"/>
<circle cx="609.3" cy="1829.3" r="25.8"/>
<circle cx="632.5" cy="1759.4" r="7.3"/>
<circle cx="631.8" cy="1776.5" r="8.2"/>
<circle cx="669.2" cy="1774" r="10.1"/>
<circle cx="693" cy="1775.3" r="11.7"/>
<circle cx="644.6" cy="1681.1" r="3.5"/>
<circle cx="701.9" cy="1666.6" r="3.7"/>
<circle cx="710.1" cy="1659.4" r="3.5"/>
<circle cx="727.9" cy="1686.7" r="4.5"/>
<circle cx="752.9" cy="1698.2" r="5"/>
<circle cx="677.7" cy="1710.9" r="4.1"/>
<circle cx="678.2" cy="1716.8" r="4.1"/>
<circle cx="706.3" cy="1709.7" r="5"/>
<circle cx="784.5" cy="1709.7" r="6.3"/>
<circle cx="829.9" cy="1701" r="6.3"/>
<circle cx="851.1" cy="1705.3" r="6.4"/>
<circle cx="846" cy="1713" r="6.6"/>
<circle cx="796" cy="1723.2" r="6.9"/>
<circle cx="800.6" cy="1727.8" r="6.9"/>
<circle cx="773.3" cy="1732.1" r="7.3"/>
<circle cx="665.5" cy="1744.3" r="7.2"/>
<circle cx="731.3" cy="1736.4" r="7.3"/>
<circle cx="722.1" cy="1748.2" r="7.9"/>
<circle cx="740.7" cy="1758.1" r="9.8"/>
<circle cx="750.9" cy="1761.9" r="10.5"/>
<circle cx="774.6" cy="1653.1" r="3.5"/>
<circle cx="787.8" cy="1653.1" r="3"/>
<circle cx="791.2" cy="1660" r="3.5"/>
<circle cx="841.4" cy="1669.6" r="4.5"/>
<circle cx="875" cy="1667.6" r="4.7"/>
<circle cx="883.4" cy="1667.6" r="4.6"/>
<circle cx="831" cy="1515.8" r="1.4"/>
<circle cx="757.6" cy="1542.6" r="1.4"/>
<circle cx="845.8" cy="1539.5" r="1.4"/>
<circle cx="885.6" cy="1538.3" r="1.4"/>
<circle cx="789.5" cy="1558.6" r="1.4"/>
<circle cx="797.4" cy="1556.1" r="1.4"/>
<circle cx="894.7" cy="1555.3" r="1.8"/>
<circle cx="963.6" cy="1556.4" r="3"/>
<circle cx="780" cy="1575.7" r="1.4"/>
<circle cx="837.4" cy="1577" r="1.8"/>
<circle cx="845.8" cy="1574.4" r="1.8"/>
<circle cx="844.5" cy="1580.8" r="1.8"/>
<circle cx="944.5" cy="1580.1" r="3"/>
<circle cx="813.2" cy="1596.1" r="2.3"/>
<circle cx="811.9" cy="1608.4" r="2.3"/>
<circle cx="765.5" cy="1603" r="2.3"/>
<circle cx="756.6" cy="1619.1" r="2.5"/>
<circle cx="896.8" cy="1600.4" r="3"/>
<circle cx="893.5" cy="1611.9" r="3"/>
<circle cx="915.9" cy="1607.1" r="3.2"/>
<circle cx="950.3" cy="1603" r="3.9"/>
<circle cx="843.3" cy="1614" r="2.8"/>
<circle cx="847.6" cy="1619.6" r="2.8"/>
<circle cx="855.2" cy="1618.5" r="2.8"/>
<circle cx="861.1" cy="1616.5" r="2.8"/>
<circle cx="846.8" cy="1635.6" r="3.7"/>
<circle cx="799.2" cy="1630" r="3"/>
<circle cx="792.3" cy="1635.6" r="3"/>
<circle cx="808.6" cy="1633.8" r="3"/>
<circle cx="807.6" cy="1638.2" r="3"/>
<circle cx="827.7" cy="1642" r="3.7"/>
<circle cx="789.7" cy="1646.6" r="3.2"/>
<circle cx="797.4" cy="1646.3" r="3.2"/>
<circle cx="909.3" cy="1652.7" r="4.9"/>
<circle cx="576" cy="1551.8" r="1.3"/>
<circle cx="556.6" cy="1609.7" r="1.3"/>
<circle cx="582.8" cy="1634.7" r="2.2"/>
<circle cx="630" cy="1640" r="2.2"/>
<circle cx="629.5" cy="1662.7" r="2.4"/>
<circle cx="637.6" cy="1672.9" r="3"/>
<circle cx="712.1" cy="1536.3" r="1.3"/>
<circle cx="716.7" cy="1564.6" r="1.3"/>
<circle cx="746.8" cy="1551.8" r="1.3"/>
<circle cx="705.5" cy="1586.2" r="1.3"/>
<circle cx="677.9" cy="1595.9" r="1.5"/>
<circle cx="675.9" cy="1612" r="1.9"/>
<circle cx="688.1" cy="1623.2" r="2.2"/>
<circle cx="710.6" cy="1631.1" r="2.6"/>
<circle cx="728.1" cy="1618.9" r="2.2"/>
<circle cx="741.7" cy="1620.9" r="2.2"/>
<circle cx="727.6" cy="1632.1" r="2.4"/>
<circle cx="733.2" cy="1630.3" r="2.4"/>
<circle cx="735.8" cy="1639.3" r="2.6"/>
<circle cx="748.5" cy="1627.8" r="2.4"/>
<circle cx="751.1" cy="1636.7" r="3"/>
<circle cx="504.7" cy="1684.6" r="2.5"/>
<circle cx="500.4" cy="1727.3" r="4.1"/>
<circle cx="516.1" cy="1720.8" r="3.9"/>
<circle cx="573.7" cy="1724.1" r="4.3"/>
<circle cx="591" cy="1692.1" r="3.4"/>
<circle cx="596.8" cy="1704.2" r="3.9"/>
<circle cx="620.1" cy="1742" r="5.7"/>
</g>
<line x1="392.1" y1="1951.3" x2="392.1" y2="1437.8" stroke="#dd7fc1" stroke-width="4.4" stroke-dasharray="4.6 7.9"/>
<line x1="221.4" y1="1662.3" x2="1012.6" y2="1662.3" stroke="#dd7fc1" stroke-width="4.4" stroke-dasharray="4.6 7.9"/>
<line x1="636.9" y1="1951.3" x2="636.9" y2="1437.8" stroke="#9467bd" stroke-width="4.4" stroke-dasharray="4.6 7.9"/>
<line x1="221.4" y1="1709.3" x2="1012.6" y2="1709.3" stroke="#9467bd" stroke-width="4.4" stroke-dasharray="4.6 7.9"/>
<line x1="625.6" y1="1951.3" x2="625.6" y2="1437.8" stroke="#008b8b" stroke-width="4.6" stroke-dasharray="17.6 7.4"/>
<line x1="221.4" y1="1839" x2="1012.6" y2="1839" stroke="#008b8b" stroke-width="4.6" stroke-dasharray="17.6 7.4"/>
</g>
<path d="M273.2 1951.3v15.6M445.1 1951.3v15.6M617 1951.3v15.6M788.9 1951.3v15.6M960.8 1951.3v15.6M221.4 1951.3v7.8M235 1951.3v7.8M246.5 1951.3v7.8M256.5 1951.3v7.8M265.3 1951.3v7.8M324.9 1951.3v7.8M355.2 1951.3v7.8M376.7 1951.3v7.8M393.3 1951.3v7.8M406.9 1951.3v7.8M418.4 1951.3v7.8M428.4 1951.3v7.8M437.2 1951.3v7.8M496.8 1951.3v7.8M527.1 1951.3v7.8M548.6 1951.3v7.8M565.2 1951.3v7.8M578.9 1951.3v7.8M590.4 1951.3v7.8M600.3 1951.3v7.8M609.1 1951.3v7.8M668.8 1951.3v7.8M699 1951.3v7.8M720.5 1951.3v7.8M737.2 1951.3v7.8M750.8 1951.3v7.8M762.3 1951.3v7.8M772.3 1951.3v7.8M781.1 1951.3v7.8M840.7 1951.3v7.8M871 1951.3v7.8M892.4 1951.3v7.8M909.1 1951.3v7.8M922.7 1951.3v7.8M934.2 1951.3v7.8M944.2 1951.3v7.8M953 1951.3v7.8M1012.6 1951.3v7.8M221.4 1951.3h-13.6M221.4 1848.6h-13.6M221.4 1745.9h-13.6M221.4 1643.2h-13.6M221.4 1540.5h-13.6M221.4 1437.8h-13.6M221.4 1920.4h-6.7M221.4 1902.3h-6.7M221.4 1889.5h-6.7M221.4 1879.5h-6.7M221.4 1871.4h-6.7M221.4 1864.5h-6.7M221.4 1858.6h-6.7M221.4 1853.3h-6.7M221.4 1817.7h-6.7M221.4 1799.6h-6.7M221.4 1786.8h-6.7M221.4 1776.8h-6.7M221.4 1768.7h-6.7M221.4 1761.8h-6.7M221.4 1755.9h-6.7M221.4 1750.6h-6.7M221.4 1715h-6.7M221.4 1696.9h-6.7M221.4 1684.1h-6.7M221.4 1674.1h-6.7M221.4 1666h-6.7M221.4 1659.1h-6.7M221.4 1653.2h-6.7M221.4 1647.9h-6.7M221.4 1612.3h-6.7M221.4 1594.2h-6.7M221.4 1581.4h-6.7M221.4 1571.4h-6.7M221.4 1563.3h-6.7M221.4 1556.4h-6.7M221.4 1550.5h-6.7M221.4 1545.2h-6.7M221.4 1509.6h-6.7M221.4 1491.5h-6.7M221.4 1478.7h-6.7M221.4 1468.7h-6.7M221.4 1460.6h-6.7M221.4 1453.7h-6.7M221.4 1447.8h-6.7M221.4 1442.5h-6.7" stroke="#000" stroke-width="3.3" fill="none"/>
<rect x="221.4" y="1437.8" width="791.2" height="513.5" fill="none" stroke="#000" stroke-width="4.5" stroke-linejoin="miter"/>
<text x="200.3" y="1451.4" class="tk" text-anchor="end">100</text>
<text x="200.3" y="1554.1" class="tk" text-anchor="end">10</text>
<text x="200.3" y="1656.8" class="tk" text-anchor="end">1</text>
<text x="200.3" y="1759.5" class="tk" text-anchor="end">0.1</text>
<text x="200.3" y="1862.2" class="tk" text-anchor="end">0.01</text>
<text x="200.3" y="1964.7" class="tk" text-anchor="end">10<tspan class="sup" dy="-13">−3</tspan></text>
<text x="274" y="2000.8" class="tk" text-anchor="middle">1</text>
<text x="445.9" y="2000.8" class="tk" text-anchor="middle">10</text>
<text x="617.8" y="2000.8" class="tk" text-anchor="middle">100</text>
<text x="789.7" y="2000.8" class="tk" text-anchor="middle">10<tspan class="sup" dy="-13">3</tspan></text>
<text x="961.6" y="2000.8" class="tk" text-anchor="middle">10<tspan class="sup" dy="-13">4</tspan></text>
<text x="615.5" y="2042.4" class="lb" text-anchor="middle">Orbital Period [days]</text>
<text transform="translate(100.3 1695.2) rotate(-90)" class="lb" text-anchor="middle">Planet Mass [<tspan font-style="italic">M</tspan><tspan font-size="22.5" font-style="italic" dy="5">J</tspan><tspan dy="-5">]</tspan></text>
<text x="616.5" y="1424" font-size="38" text-anchor="middle">Mayor+ 2011 Occurrence</text>
<g><text class="sr" transform="translate(2.9 1420) scale(1.1 1)" font-size="40">c</text><text class="sr" x="22.4" y="1420" font-size="45">)</text></g>
</svg></body></html>
